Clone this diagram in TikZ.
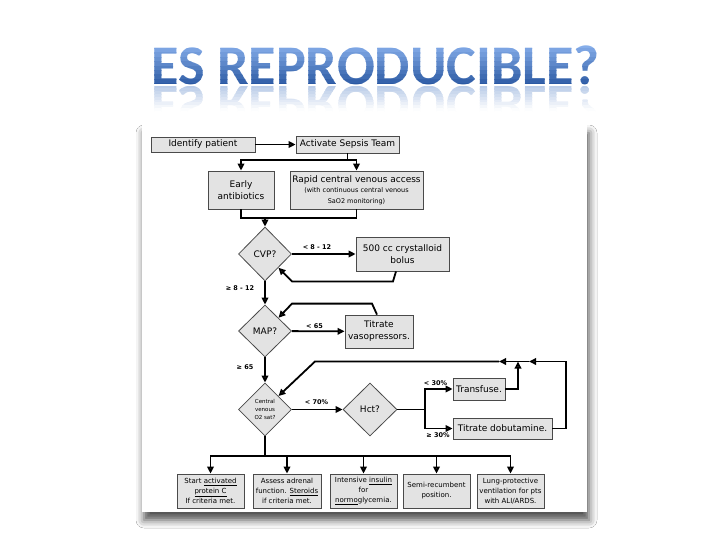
\documentclass[tikz,border=0pt]{standalone}
\usepackage{graphicx}
\usepackage{fontspec}
\setmainfont{DejaVu Sans}
\newfontfamily\headfont{Carlito}
\usetikzlibrary{shapes.geometric, arrows.meta, positioning, shadows.blur}

\definecolor{boxgray}{HTML}{E3E3E3}
\definecolor{edgegray}{HTML}{4A4A4A}
\definecolor{titletop}{HTML}{86AEEA}
\definecolor{titlebot}{HTML}{2A58A2}
\definecolor{titlemid}{HTML}{5A86C8}

\begin{document}
\begin{tikzpicture}[x=1pt, y=-1pt,
  >={Triangle[length=7pt,width=6.5pt]},
  box/.style={draw=edgegray, fill=boxgray, line width=0.8pt, inner sep=1pt, align=center, font=\fontsize{9}{12}\selectfont},
  smallbox/.style={box, font=\fontsize{7}{10}\selectfont, minimum width=67pt, minimum height=34pt},
  decision/.style={diamond, draw=edgegray, fill=boxgray, line width=0.8pt, inner sep=0pt, align=center, minimum width=53pt, minimum height=53pt, font=\fontsize{9}{11}\selectfont},
  flow/.style={line width=1.8pt},
  lbl/.style={font=\bfseries\fontsize{6.5}{7}\selectfont, inner sep=0pt},
  heading/.style={inner sep=0pt, font=\headfont\bfseries\fontsize{56}{56}\selectfont}]
\fill[white] (0,0) rectangle (728,546);

% slide panel and heading
\path[fill=white, blur shadow={shadow xshift=2pt, shadow yshift=-8pt, shadow blur radius=8pt, shadow opacity=70}] (142,125) rectangle (587,512);
\foreach \i in {0,...,9}{
  \pgfmathsetmacro\mix{100-\i*11}
  \begin{scope}
    \clip (140,{44+\i*4.4}) rectangle (610,{48.7+\i*4.4});
    \node[heading, anchor=base, text=titletop!\mix!titlebot] (head\i) at (375.5,84) {ES REPRODUCIBLE?};
  \end{scope}
}
% mirrored heading, fading out downwards
\foreach \i in {0,...,9}{
  \pgfmathsetmacro\mix{max(0,42-\i*5)}
  \begin{scope}
    \clip (140,{86+\i*2.8}) rectangle (610,{89.1+\i*2.8});
    \node[heading, anchor=north, text=titlemid!\mix] (mirror\i) at (375.5,86) {\scalebox{1}[-1]{ES REPRODUCIBLE?}};
  \end{scope}
}

% boxes
\node[box, minimum width=104pt, minimum height=15pt] (ident) at (203,144.5) {Identify patient};
\node[box, minimum width=103pt, minimum height=17pt] (team) at (347.5,144.5) {Activate Sepsis Team};
\node[box, minimum width=66pt, minimum height=38pt] (abx) at (241,190) {Early\\antibiotics};
\node[box, minimum width=133pt, minimum height=38pt] (cva) at (356.5,190) {Rapid central venous access\\[-2pt]\fontsize{6.5}{9}\selectfont(with continuous central venous\\[-1pt]\fontsize{6.5}{9}\selectfont SaO2 monitoring)};
\node[decision, minimum height=54pt] (cvp) at (265,254) {CVP?};
\node[box, minimum width=93pt, minimum height=34pt] (bolus) at (402.5,254) {500 cc crystalloid\\bolus};
\node[decision, minimum height=52pt] (map) at (265,331) {MAP?};
\node[box, minimum width=68pt, minimum height=33pt] (vaso) at (379,331.5) {Titrate\\vasopressors.};
\node[decision, font=\fontsize{5.5}{8}\selectfont] (svo) at (265,409.5) {Central\\venous\\O2 sat?};
\node[decision, minimum width=54pt] (hct) at (370,409.5) {Hct?};
\node[box, minimum width=52pt, minimum height=22pt] (transf) at (479,389) {Transfuse.};
\node[box, minimum width=99pt, minimum height=21pt] (dobu) at (502.5,428.5) {Titrate dobutamine.};
\node[smallbox] (apc) at (210.5,491) {Start \underline{activated}\\\underline{protein C}\\If criteria met.};
\node[smallbox, minimum width=68pt] (adrenal) at (287,491) {Assess adrenal\\function. \underline{Steroids}\\if criteria met.};
\node[smallbox] (insulin) at (363.5,491) {Intensive \underline{insulin}\\for\\\underline{normo}glycemia.};
\node[smallbox] (semi) at (436.5,491) {Semi-recumbent\\position.};
\node[smallbox] (lung) at (510.5,491) {Lung-protective\\ventilation for pts\\with ALI/ARDS.};

% labels
\node[lbl] (lo1) at (317,247) {< 8 - 12};
\node[lbl] (hi1) at (240,288) {≥ 8 - 12};
\node[lbl] (lo2) at (314.5,326) {< 65};
\node[lbl] (hi2) at (245,367) {≥ 65};
\node[lbl] (lo3) at (316.5,402) {< 70\%};
\node[lbl] (lo4) at (435.5,383) {< 30\%};
\node[lbl] (hi4) at (438,435) {≥ 30\%};

% connectors
\coordinate (split) at (347.5,160);
\coordinate (merge) at (265,218);
\coordinate (fork) at (425,409.5);
\coordinate (loopr) at (566,361.5);
\coordinate (loopm) at (518,361.5);
\coordinate (loopl) at (315,361.5);
\coordinate (bus) at (265,456);

\draw[flow,->] (ident) -- (team);
\draw[flow] (team.south) -- (split);
\draw[flow,->] (split) -| (abx.north);
\draw[flow,->] (split) -| (cva.north);
\draw[flow] (abx.south) |- (merge) -| (cva.south);
\draw[flow,->] (merge) -- (cvp.north);
\draw[flow,->] (cvp) -- (bolus);
\draw[flow,->] ([xshift=-6.5pt]bolus.south) -- ++(-3,10) -- ++(-101,0) -- (cvp.south east);
\draw[flow,->] (cvp) -- (map);
\draw[flow,->] (map) -- (vaso);
\draw[flow,->] ([xshift=-2pt]vaso.north) -- ++(-5,-11) -- ++(-80,0) -- (map.north east);
\draw[flow,->] (map) -- (svo);
\draw[flow,->] (svo) -- (hct);
\draw[flow] (hct) -- (fork);
\draw[flow,->] (fork) |- (transf.west);
\draw[flow,->] (fork) |- (dobu.west);
\draw[flow,->] (transf.east) -| (loopm);
\draw[flow,->] (dobu.east) -| (loopr) -- ++(-37,0);
\draw[flow,->] ([xshift=-37pt]loopr) -- ++(-30,0);
\draw[flow,->] ([xshift=-67pt]loopr) -- (loopl) -- (svo.north east);
\draw[flow] (svo) -- (bus);
\foreach \b in {apc,adrenal,insulin,semi,lung}
  \draw[flow,->] (bus) -| (\b.north);
\end{tikzpicture}
\end{document}
